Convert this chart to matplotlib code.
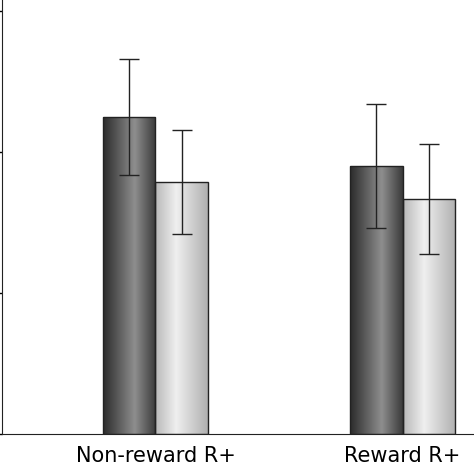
import numpy as np
import matplotlib
matplotlib.use("Agg")
import matplotlib.pyplot as plt
from matplotlib.colors import LinearSegmentedColormap

# values (arbitrary units, ticks at 0,1,2,3)
groups = ["Non-reward R+", "Reward R+"]
dark_vals = [2.25, 1.90]
dark_err = [0.41, 0.44]
light_vals = [1.79, 1.67]
light_err = [0.37, 0.39]

dark_cmap = LinearSegmentedColormap.from_list(
    "dark", [(0, "#2b2b2b"), (0.6, "#8e8e8e"), (1, "#3a3a3a")])
light_cmap = LinearSegmentedColormap.from_list(
    "light", [(0, "#b8b8b8"), (0.4, "#efefef"), (1, "#b0b0b0")])

fig = plt.figure(figsize=(4.74, 4.74), dpi=100)
ax = fig.add_axes([2 / 474, 1 - 434 / 474, 1 - 2 / 474, 434 / 474])

x = np.array([1.0, 3.35])
w = 0.5
grad = np.linspace(0, 1, 256).reshape(1, -1)

def draw_bars(xs, vals, errs, cmap):
    bars = ax.bar(xs, vals, w, facecolor="none", edgecolor="#222222",
                  linewidth=1.0, zorder=3)
    for b in bars:
        x0, y0 = b.get_x(), b.get_y()
        im = ax.imshow(grad, cmap=cmap, aspect="auto", zorder=2,
                       extent=[x0, x0 + b.get_width(), y0, y0 + b.get_height()])
        im.set_clip_path(b)
    ax.errorbar(xs, vals, yerr=errs, fmt="none", ecolor="#222222",
                elinewidth=1.0, capsize=7, capthick=1.0, zorder=4)

draw_bars(x - w / 2, dark_vals, dark_err, dark_cmap)
draw_bars(x + w / 2, light_vals, light_err, light_cmap)

ax.set_xlim(-0.46, 4.03)
ax.set_ylim(0, 3.08)
ax.set_yticks([0, 1, 2, 3])
ax.set_yticklabels([])
ax.tick_params(axis="y", direction="out", length=6, width=1)
ax.set_xticks(x)
ax.set_xticklabels(groups, fontsize=15)
ax.tick_params(axis="x", length=0, pad=9)
for s in ["top", "right"]:
    ax.spines[s].set_visible(False)
for s in ["left", "bottom"]:
    ax.spines[s].set_color("#222222")

fig.savefig("out.png", dpi=100)
